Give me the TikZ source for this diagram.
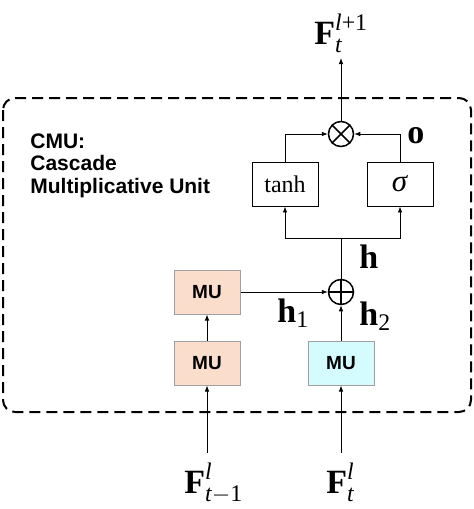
\documentclass[tikz,border=0pt]{standalone}
\usepackage{fix-cm}
\usepackage{amsmath}
\usepackage{fontspec}
\setmainfont{Liberation Serif}
\setsansfont{Liberation Sans}
\usetikzlibrary{arrows.meta}

\definecolor{mupink}{RGB}{251,221,204}
\definecolor{mucyan}{RGB}{212,252,255}
\definecolor{muedge}{RGB}{160,160,160}

\newcommand{\bigmath}{\fontsize{34}{38}\selectfont}

\begin{document}
\begin{tikzpicture}[x=1pt, y=-1pt,
  line width=0.8pt,
  >={Latex[length=6pt,width=4.5pt]},
  mubox/.style={draw=muedge, line width=1pt, minimum width=66pt, minimum height=44pt, inner sep=0pt, font=\sffamily\bfseries\fontsize{19}{19}\selectfont},
  fnbox/.style={draw, line width=0.9pt, minimum width=66pt, minimum height=44pt, inner sep=0pt, font=\fontsize{24}{24}\selectfont},
  opcirc/.style={draw, circle, line width=1.5pt, minimum size=25pt, inner sep=0pt},
  sym/.style={anchor=base west, inner sep=0pt, font=\bigmath}]

  \useasboundingbox (0,0) rectangle (474,509);

  % --- Frame ---
  \draw[line width=2pt, dash pattern=on 11pt off 6pt, rounded corners=12pt] (3,98) rectangle (471,412);
  \node[anchor=north west, align=left, inner sep=0pt, font=\sffamily\bfseries\fontsize{21}{22.5}\selectfont] (title) at (30,133) {CMU:\\Cascade\\Multiplicative Unit};

  % --- Gates ---
  \node[opcirc] (mul) at (341,134) {};
  \draw[line width=1.5pt] (mul.north west) -- (mul.south east) (mul.north east) -- (mul.south west);
  \node[fnbox] (tanh) at (285,184) {tanh};
  \node[fnbox] (sig) at (400,184) {\fontsize{31}{31}\selectfont\textit{σ}};
  \node[opcirc] (add) at (341,292) {};
  \draw[line width=1.5pt] (add.north) -- (add.south) (add.west) -- (add.east);

  % --- MU blocks ---
  \node[mubox, fill=mupink] (mua) at (207,292) {MU};
  \node[mubox, fill=mupink] (mub) at (207,363) {MU};
  \node[mubox, fill=mucyan] (muc) at (341,363) {MU};

  % --- Inputs and output ---
  \node[sym] (fprev) at (184,493) {$\textbf{F}_{\text{\itshape t}-\text{1}}^{\text{\itshape l}}$};
  \node[sym] (fcur) at (326,493) {$\textbf{F}_{\text{\itshape t}}^{\text{\itshape l}}$};
  \node[sym] (fout) at (314,44) {$\textbf{F}_{\text{\itshape t}}^{\text{\itshape l}\text{+1}}$};
  \coordinate (inprev) at (207,453);
  \coordinate (incur) at (341,453);
  \coordinate (outtop) at (341,58);
  \coordinate (split) at (341,238);

  % --- Labels ---
  \node[sym] (hlab) at (359,268) {$\textbf{h}$};
  \node[sym] (hone) at (277,322) {$\textbf{h}_{\text{1}}$};
  \node[sym] (htwo) at (359,325) {$\textbf{h}_{\text{2}}$};
  \node[sym] (olab) at (407,143) {$\textbf{o}$};

  % --- Connectors ---
  \draw[->] (inprev) -- (mub);
  \draw[->] (mub) -- (mua);
  \draw[->] (mua) -- (add);
  \draw[->] (incur) -- (muc);
  \draw[->] (muc) -- (add);
  \draw (add) -- (split);
  \draw[->] (split) -| (tanh);
  \draw[->] (split) -| (sig);
  \draw[->] (tanh) |- (mul);
  \draw[->] (sig) |- (mul);
  \draw[->] (mul) -- (outtop);

\end{tikzpicture}
\end{document}
